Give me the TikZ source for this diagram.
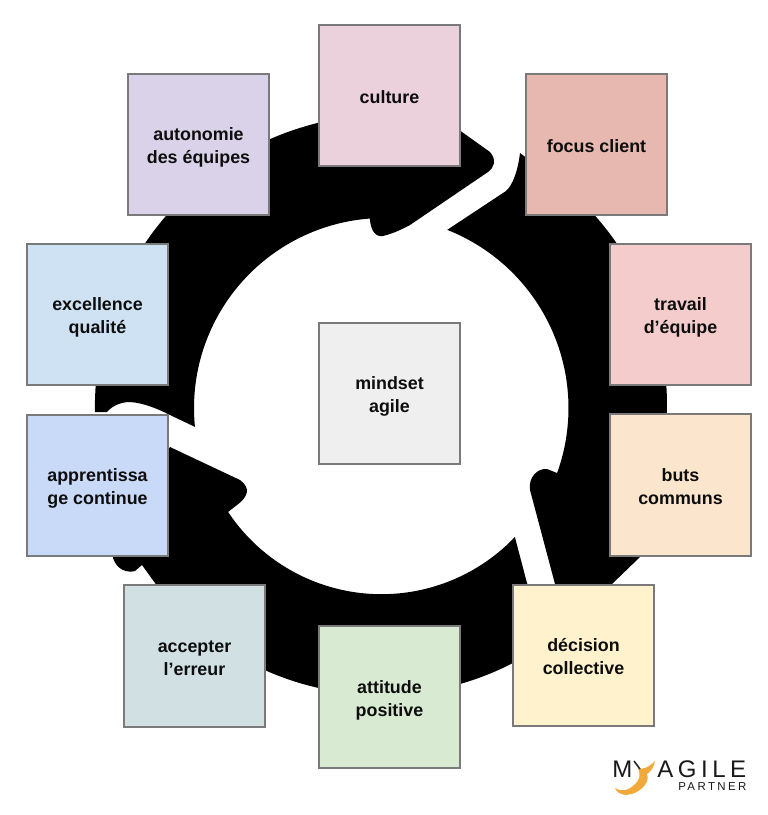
\documentclass[tikz,border=0pt]{standalone}
\usepackage{fontspec}
\setmainfont{Liberation Sans}
\definecolor{bc}{HTML}{7A7A7A}
\definecolor{swoosh}{HTML}{F2A93B}
\definecolor{ccul}{HTML}{EAD1DC}
\definecolor{cfoc}{HTML}{E6B8AF}
\definecolor{ctra}{HTML}{F4CCCC}
\definecolor{cbut}{HTML}{FCE5CD}
\definecolor{cdec}{HTML}{FFF2CC}
\definecolor{catt}{HTML}{D9EAD3}
\definecolor{cacc}{HTML}{D0E0E3}
\definecolor{capp}{HTML}{C9DAF8}
\definecolor{cexc}{HTML}{CFE2F3}
\definecolor{caut}{HTML}{D9D2E9}
\definecolor{cmin}{HTML}{EFEFEF}
\newcommand\firstl{\rule{0pt}{14.4pt}}
\newcommand\lastl{\rule[-3pt]{0pt}{3pt}}
\newcommand\onel{\rule{0pt}{12.2pt}}
\tikzset{
  x=0.75pt,y=-0.75pt,
  card/.style={draw=bc,line width=1.5pt,minimum width=106.4pt,minimum height=106.4pt,inner sep=0pt,align=center,
    font=\fontsize{13.4}{17.25}\selectfont\bfseries,text=black!95},
  arc/.style={fill=black,draw=none},
  curve/.style={domain=#1,samples=70,variable=\t},
  logo/.style={inner sep=0pt,anchor=base west,text=black!90}
}
\begin{document}
\begin{tikzpicture}
\useasboundingbox (0,0) rectangle (768,815);
% top arrow
\fill[arc] plot[curve=174.3:265.7] ({384+190*cos(\t)},{408+190*sin(\t)})
  .. controls (371,232) and (376,237) .. (383,236)
  .. controls (395,233) and (402,229) .. (410,225)
  -- (488,172) .. controls (494,168) and (497,160) .. (490,152)
  -- (462,132) -- (440,115) -- (317,123)
  -- plot[curve=256:179] ({387.4+292.5*cos(\t)},{407+292.5*sin(\t)})
  -- (95,412) -- (107,412) .. controls (113,405) and (122,402) .. (130,402)
  .. controls (145,403) and (160,410) .. (170,415) -- cycle;
% right arrow
\fill[arc] (447,230) -- (506,191) .. controls (513,185) and (518,170) .. (520,153)
  -- (528,159) -- (560,170)
  -- plot[curve=-50:3] ({382+285*cos(\t)},{405+285*sin(\t)})
  -- (660,500) -- (640,557) -- (612,584) -- (600,600) -- (562,600) -- (555,584)
  -- (530,490) .. controls (528,477) and (538,468) .. (547,469) -- (557,473)
  -- plot[curve=19.9:-68.5] ({377+191.5*cos(\t)},{408+191.5*sin(\t)})
  -- cycle;
% lower arrow
\fill[arc] plot[curve=43.6:146.4] ({381.5+184.2*cos(\t)},{410+184.2*sin(\t)})
  -- (237,505) .. controls (248,497) and (251,488) .. (240,480)
  -- (170,447) -- (150,480) -- (113,540) -- (113,558)
  .. controls (117,570) and (127,573) .. (135,571) -- (142,565)
  -- (155,583) -- (200,640) -- (256,666)
  -- plot[curve=116:60] ({381.5+286*cos(\t)},{409+286*sin(\t)})
  -- (530,640) -- (533,600) -- (527,583) -- cycle;
% cards
\node[card,fill=ccul] (culture) at (389.5,95.5) {\onel culture};
\node[card,fill=caut] (autonomie) at (198.5,144.5) {\firstl autonomie\\des équipes\lastl};
\node[card,fill=cfoc] (focus) at (596.5,144.5) {\onel focus client};
\node[card,fill=cexc] (excellence) at (97.5,314.5) {\firstl excellence\\qualité\lastl};
\node[card,fill=ctra] (travail) at (680.5,314.5) {\firstl travail\\d’équipe\lastl};
\node[card,fill=cmin] (mindset) at (389.5,393.5) {\firstl mindset\\agile\lastl};
\node[card,fill=capp] (apprentissage) at (97.5,485.5) {\firstl apprentissa\\ge continue\lastl};
\node[card,fill=cbut] (buts) at (680.5,485) {\firstl buts\\communs\lastl};
\node[card,fill=cacc] (accepter) at (194.5,656) {\firstl accepter\\l’erreur\lastl};
\node[card,fill=cdec] (decision) at (583.5,655.5) {\firstl décision\\collective\lastl};
\node[card,fill=catt] (attitude) at (389.5,697) {\firstl attitude\\positive\lastl};
% logo
\fill[swoosh] (655,761) .. controls (654,768) and (650,772) .. (647,774)
  .. controls (650,780) and (644,790) .. (632,794)
  .. controls (625,796) and (618,795) .. (615,788)
  .. controls (620,792) and (628,791) .. (634,785)
  .. controls (640,780) and (641,775) .. (638,768)
  .. controls (642,770) and (648,768) .. (655,761) -- cycle;
\draw[black!85,line width=1.2pt] (634,761) -- (640,769);
\node[logo,font=\fontsize{18}{18}\selectfont] (logoM) at (612,777) {M};
\node[logo,font=\fontsize{18}{18}\selectfont\addfontfeature{LetterSpace=19}] (logoA) at (657,777) {AGILE};
\node[logo,font=\fontsize{8.6}{8.6}\selectfont\addfontfeature{LetterSpace=21}] (logoP) at (678,790) {PARTNER};
\end{tikzpicture}
\end{document}
